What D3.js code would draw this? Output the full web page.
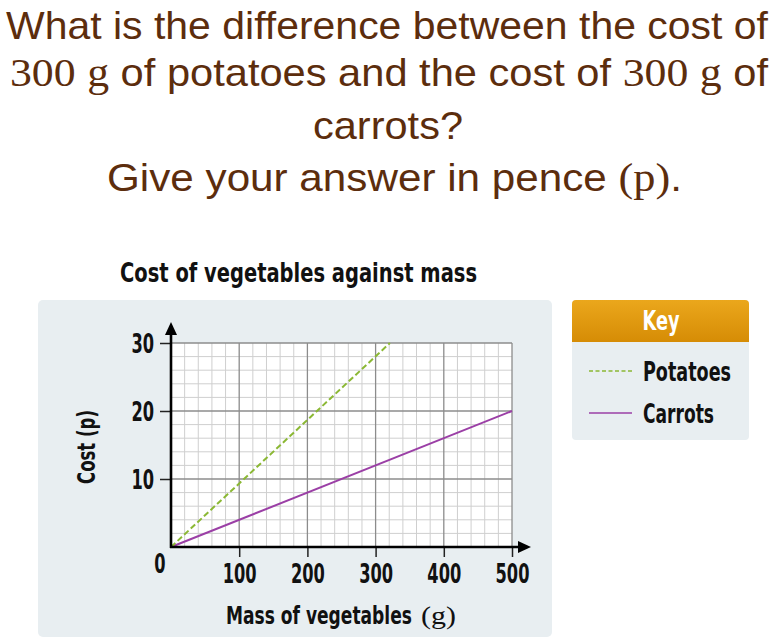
<!DOCTYPE html>
<html><head><meta charset="utf-8">
<script src="https://cdn.jsdelivr.net/npm/d3@7"></script>
<style>body{margin:0;background:#fff;} svg{display:block;}</style>
</head><body>
<svg id="c" width="778" height="637"></svg>
<script>
// ---- data ----
const potatoMass = [0, 321];
const potatoCost = [0, 30];
const carrotMass = [0, 500];
const carrotCost = [0, 20];
const xTicks = [100, 200, 300, 400, 500];
const yTicks = [10, 20, 30];
const legendLabels = ["Potatoes", "Carrots"];
const questionLines = [
  [{t:"What is the difference between the cost of"}],
  [{t:"300", s:1},{t:" "},{t:"g", s:1},{t:" of potatoes and the cost of "},{t:"300", s:1},{t:" "},{t:"g", s:1},{t:" of"}],
  [{t:"carrots?"}],
  [{t:"Give your answer in pence "},{t:"(p)", s:1},{t:"."}]
];

const svg = d3.select("#c");
const brown = "#5c2d0d";
const cond = "'DejaVu Sans Condensed','DejaVu Sans',sans-serif";

// ---- question text ----
const qPos = [{y:39, x0:6, x1:768},{y:86, x0:10, x1:768},{y:139, x0:313, x1:463},{y:191, x0:107, x1:682}];
questionLines.forEach((line,i)=>{
  const p = qPos[i];
  const t = svg.append("text").attr("x", p.x0).attr("y", p.y)
    .attr("textLength", p.x1-p.x0).attr("lengthAdjust","spacingAndGlyphs")
    .attr("fill", brown).attr("font-size", 39)
    .attr("font-family","'Liberation Sans',Arial,sans-serif");
  line.forEach(seg=>{
    t.append("tspan").text(seg.t)
      .attr("font-family", seg.s ? "'Liberation Serif','DejaVu Serif',serif" : null)
      .attr("font-size", seg.s ? 41 : null);
  });
});

// ---- chart title ----
svg.append("text").attr("x",120).attr("y",282).attr("textLength",357).attr("lengthAdjust","spacingAndGlyphs")
  .attr("font-family",cond).attr("font-weight","bold").attr("font-size",26).attr("fill","#111")
  .text("Cost of vegetables against mass");

// ---- panel ----
svg.append("rect").attr("x",38).attr("y",300).attr("width",514).attr("height",337).attr("rx",5)
  .attr("fill","#e8eef1");

// ---- scales ----
const x = d3.scaleLinear().domain([0,500]).range([171,512]);
const y = d3.scaleLinear().domain([0,30]).range([547,343]);

const g = svg.append("g");
g.append("rect").attr("x",x(0)).attr("y",y(30)).attr("width",x(500)-x(0)).attr("height",y(0)-y(30)).attr("fill","#fff");

// minor grid
const minorX = d3.range(0,501,20), minorY = d3.range(0,31,2);
g.selectAll(".mx").data(minorX.filter(v=>v%100)).enter().append("line")
  .attr("x1",d=>x(d)).attr("x2",d=>x(d)).attr("y1",y(0)).attr("y2",y(30))
  .attr("stroke","#cfcfcf").attr("stroke-width",1);
g.selectAll(".my").data(minorY.filter(v=>v%10)).enter().append("line")
  .attr("x1",x(0)).attr("x2",x(500)).attr("y1",d=>y(d)).attr("y2",d=>y(d))
  .attr("stroke","#cfcfcf").attr("stroke-width",1);
// major grid
g.selectAll(".Mx").data(xTicks).enter().append("line")
  .attr("x1",d=>x(d)).attr("x2",d=>x(d)).attr("y1",y(0)).attr("y2",y(30))
  .attr("stroke","#8c8c8c").attr("stroke-width",1.3);
g.selectAll(".My").data(yTicks).enter().append("line")
  .attr("x1",x(0)).attr("x2",x(500)).attr("y1",d=>y(d)).attr("y2",d=>y(d))
  .attr("stroke","#8c8c8c").attr("stroke-width",1.3);

// lines
const lineGen = d3.line().x(d=>x(d[0])).y(d=>y(d[1]));
g.append("path").datum(carrotMass.map((m,i)=>[m,carrotCost[i]])).attr("d",lineGen)
  .attr("fill","none").attr("stroke","#9b3fa6").attr("stroke-width",2);
g.append("path").datum(potatoMass.map((m,i)=>[m,potatoCost[i]])).attr("d",lineGen)
  .attr("fill","none").attr("stroke","#8bb834").attr("stroke-width",2).attr("stroke-dasharray","6,3");

// axes
const xAxis = d3.axisBottom(x).tickValues(xTicks).tickSize(10).tickFormat(d3.format("d"));
const yAxis = d3.axisLeft(y).tickValues(yTicks).tickSize(11).tickFormat(d3.format("d"));
const gx = svg.append("g").attr("transform",`translate(0,${y(0)})`).call(xAxis);
const gy = svg.append("g").attr("transform",`translate(${x(0)},0)`).call(yAxis);
[gx,gy].forEach(a=>{
  a.select(".domain").remove();
  a.selectAll(".tick line").attr("stroke","#222").attr("stroke-width",1.5);
  a.selectAll(".tick text").attr("font-family",cond).attr("font-size",26).attr("fill","#111").attr("font-weight","bold")
    .attr("lengthAdjust","spacingAndGlyphs").attr("textLength",d=>String(d).length*11.3);
});
gx.selectAll(".tick text").attr("dy","0").attr("y",36);
gy.selectAll(".tick text").attr("x",-17).attr("dy","0.36em");

// axis lines with arrows
svg.append("line").attr("x1",x(0)).attr("x2",x(0)).attr("y1",y(0)+1).attr("y2",330).attr("stroke","#000").attr("stroke-width",2.6);
svg.append("line").attr("x1",x(0)-1).attr("x2",522).attr("y1",y(0)).attr("y2",y(0)).attr("stroke","#000").attr("stroke-width",2.6);
svg.append("path").attr("d",`M${x(0)},322 L${x(0)-6},335 L${x(0)+6},335 Z`).attr("fill","#000");
svg.append("path").attr("d",`M531,${y(0)} L518,${y(0)-6} L518,${y(0)+6} Z`).attr("fill","#000");

svg.append("text").attr("x",160).attr("y",573).attr("text-anchor","middle").attr("font-family",cond)
  .attr("font-weight","bold").attr("font-size",26).attr("fill","#111")
  .attr("textLength",11.3).attr("lengthAdjust","spacingAndGlyphs").text("0");

// axis labels
svg.append("text").attr("transform","translate(95,447) rotate(-90)").attr("text-anchor","middle")
  .attr("font-family",cond).attr("font-weight","bold").attr("font-size",24).attr("fill","#111")
  .attr("textLength",74).attr("lengthAdjust","spacingAndGlyphs").text("Cost (p)");
const xlab = svg.append("text").attr("x",0).attr("y",0)
  .attr("font-family",cond).attr("font-weight","bold").attr("font-size",25).attr("fill","#111")
  .text("Mass of vegetables");
const w = xlab.node().getComputedTextLength();
xlab.attr("transform",`translate(226,624) scale(${186/w},1)`);
svg.append("text").attr("x",421).attr("y",624).attr("textLength",35).attr("lengthAdjust","spacingAndGlyphs")
  .attr("font-family","'Liberation Serif','DejaVu Serif',serif").attr("font-size",26).attr("fill","#111")
  .text("(g)");

// ---- legend ----
const defs = svg.append("defs");
const grad = defs.append("linearGradient").attr("id","kg").attr("x1",0).attr("x2",0).attr("y1",0).attr("y2",1);
grad.append("stop").attr("offset","0%").attr("stop-color","#eba71c");
grad.append("stop").attr("offset","100%").attr("stop-color","#d68c05");
svg.append("rect").attr("x",572).attr("y",300).attr("width",177).attr("height",140).attr("rx",4).attr("fill","#e8eef1");
svg.append("path").attr("d","M572,342 L572,304 Q572,300 576,300 L745,300 Q749,300 749,304 L749,342 Z").attr("fill","url(#kg)");
svg.append("text").attr("x",661).attr("y",330).attr("text-anchor","middle").attr("font-family",cond)
  .attr("font-weight","bold").attr("font-size",27).attr("fill","#fff")
  .attr("textLength",37).attr("lengthAdjust","spacingAndGlyphs").text("Key");
const legY = [371, 413];
const legStyles = [{c:"#8bb834", d:"4,2.5"},{c:"#9b3fa6", d:null}];
legendLabels.forEach((l,i)=>{
  svg.append("line").attr("x1",589).attr("x2",632).attr("y1",legY[i]).attr("y2",legY[i])
    .attr("stroke",legStyles[i].c).attr("stroke-width",1.6).attr("stroke-dasharray",legStyles[i].d);
  svg.append("text").attr("x",643).attr("y",legY[i]+10).attr("font-family",cond).attr("font-weight","bold")
    .attr("font-size",26).attr("fill","#111").attr("textLength", i===0?88:71).attr("lengthAdjust","spacingAndGlyphs").text(l);
});
</script>
</body></html>
